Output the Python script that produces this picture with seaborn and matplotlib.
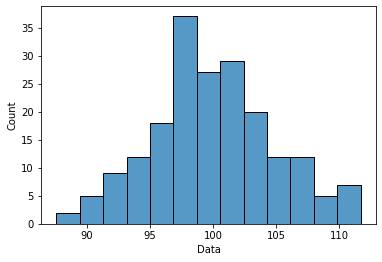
import numpy as np
import pandas as pd
import matplotlib
matplotlib.use("Agg")
import matplotlib.pyplot as plt
import seaborn as sns

# Histogram
bin_start = 87.57
bin_width = 1.857
counts = [2, 5, 9, 12, 18, 37, 27, 29, 20, 12, 12, 5, 7]

edges = bin_start + bin_width * np.arange(len(counts) + 1)
centers = (edges[:-1] + edges[1:]) / 2
df = pd.DataFrame({"Data": centers, "w": counts})

fig = plt.figure(figsize=(382 / 72, 262 / 72), dpi=72)
ax = fig.add_axes([41 / 382, 1 - 224 / 262, (376 - 41) / 382, (224 - 6) / 262])
sns.histplot(data=df, x="Data", weights="w", binwidth=bin_width,
             binrange=(edges[0], edges[-1]), ax=ax)
ax.set_ylabel("Count")
ax.set_xlabel("Data")
fig.savefig("out.png", dpi=72)
